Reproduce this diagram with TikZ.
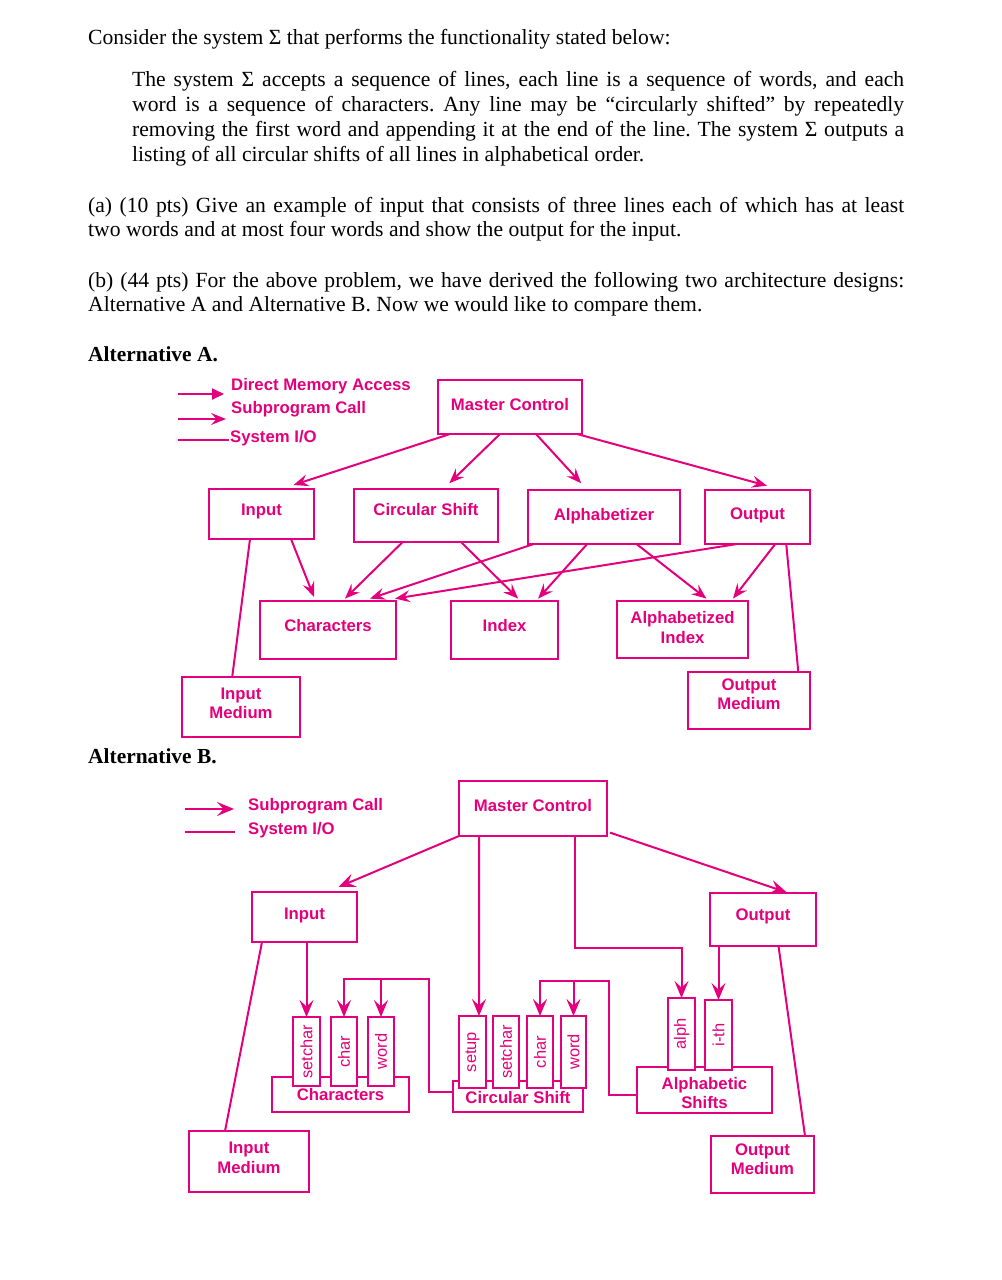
\documentclass[tikz,border=0pt]{standalone}
\usepackage{fontspec}
\setmainfont{Liberation Serif}
\newfontfamily\diagfont{Liberation Sans}
\usetikzlibrary{arrows.meta,calc}
\definecolor{mag}{RGB}{228,0,124}
\newcommand\vlabfont{\diagfont\fontsize{16.5}{18}\selectfont}
\newcommand\lift[2]{\raisebox{#1pt}[\height][\depth]{\begin{tabular}{@{}c@{}}#2\end{tabular}}}
\newcommand\dbox[7][]{\node[box,minimum width=#5bp-#3bp,minimum height=#6bp-#4bp,#1] (#2) at ({(#3+#5)/2},{(#4+#6)/2}) {#7};}
\frenchspacing
\begin{document}
\begin{tikzpicture}[x=1bp,y=-1bp,
  txt/.style={anchor=base west,inner sep=0pt,font=\fontsize{21.7}{25}\selectfont},
  htxt/.style={txt,font=\bfseries\fontsize{21.5}{25}\selectfont},
  box/.style={draw=mag,line width=2bp,inner sep=0pt,outer sep=0pt,text=mag,
    font=\diagfont\bfseries\fontsize{16.8}{19.5}\selectfont,align=center},
  sub/.style={fill=white,font=\vlabfont},
  lgd/.style={anchor=west,inner sep=0pt,text=mag,font=\diagfont\bfseries\fontsize{16.8}{19.5}\selectfont},
  io/.style={draw=mag,line width=2bp},
  call/.style={io,-{Stealth[length=15pt,width=12pt,inset=5.5pt]}},
  callB/.style={io,-{Stealth[length=17pt,width=14pt,inset=6.5pt]}},
  dma/.style={io,-{Triangle[length=12pt,width=11pt]}}
]
\fill[white] (0,0) rectangle (1002,1280);
\useasboundingbox (0,0) rectangle (1002,1280);

% ---------- text ----------
\node[txt] (t0) at (88,44) {Consider the system Σ that performs the functionality stated below:};
\node[txt] (t1) at (132,86) {\makebox[772bp][s]{The system Σ accepts a sequence of lines, each line is a sequence of words, and each}};
\node[txt] (t2) at (132,111) {\makebox[772bp][s]{word is a sequence of characters. Any line may be “circularly shifted” by repeatedly}};
\node[txt] (t3) at (132,136) {\makebox[772bp][s]{removing the first word and appending it at the end of the line. The system Σ outputs a}};
\node[txt] (t4) at (132,161) {listing of all circular shifts of all lines in alphabetical order.};
\node[txt] (t5) at (88,212) {\makebox[816bp][s]{(a) (10 pts) Give an example of input that consists of three lines each of which has at least}};
\node[txt] (t6) at (88,236) {two words and at most four words and show the output for the input.};
\node[txt] (t7) at (88,287) {\makebox[816bp][s]{(b) (44 pts) For the above problem, we have derived the following two architecture designs:}};
\node[txt] (t8) at (88,311) {Alternative A and Alternative B. Now we would like to compare them.};
\node[htxt] (hA) at (88,361) {Alternative A.};
\node[htxt] (hB) at (88,763) {Alternative B.};

% ---------- Alternative A legend ----------
\coordinate (la1s) at (178,394); \coordinate (la1e) at (224,394);
\coordinate (la2s) at (178,419); \coordinate (la2e) at (226,419);
\coordinate (la3s) at (178,440); \coordinate (la3e) at (229,440);
\draw[dma] (la1s) -- (la1e);
\draw[call] (la2s) -- (la2e);
\draw[io] (la3s) -- (la3e);
\node[lgd] (la1) at (231,386) {Direct Memory Access};
\node[lgd] (la2) at (231,409) {Subprogram Call};
\node[lgd] (la3) at (230,438) {System I/O};

% ---------- Alternative A boxes ----------
\dbox{mcA}{438}{380}{582}{434}{\lift{0}{Master Control}}
\dbox{inA}{209}{489}{314}{539}{\lift{2.6}{Input}}
\dbox{csA}{354}{489}{498}{542}{\lift{3.9}{Circular Shift}}
\dbox{alA}{528}{490}{680}{544}{\lift{0.6}{Alphabetizer}}
\dbox{ouA}{705}{490}{810}{544}{\lift{1.6}{Output}}
\dbox{chA}{260}{601}{396}{659}{\lift{2.2}{Characters}}
\dbox{ixA}{451}{601}{558}{659}{\lift{2.2}{Index}}
\dbox{aiA}{617}{601}{748}{658}{\lift{0}{Alphabetized\\Index}}
\dbox{imA}{182}{677}{300}{737}{\lift{1.9}{Input\\Medium}}
\dbox{omA}{688}{672}{810}{729}{\lift{4.5}{Output\\Medium}}

% ---------- Alternative A connectors ----------
\draw[call] ($(mcA.south west)+(12,0)$) -- ($(inA.north)+(32,-4)$);
\draw[call] ($(mcA.south)+(-10,0)$) -- ($(csA.north)+(23.3,-5.8)$);
\draw[call] ($(mcA.south)+(26,0)$) -- ($(alA.north)+(-22.8,-6.7)$);
\draw[call] ($(mcA.south east)+(-5,0)$) -- ($(ouA.north)+(9.5,-4.3)$);
\draw[call] ($(inA.south east)+(-23,0)$) -- ($(chA.north west)+(54,-4)$);
\draw[io] ($(inA.south west)+(41,0)$) -- ($(imA.north)+(-8.8,0)$);
\draw[call] ($(csA.south)+(-23.3,0)$) -- ($(chA.north)+(17,-2.4)$);
\draw[call] ($(csA.south)+(35,0)$) -- ($(ixA.north)+(13.65,-2.4)$);
\draw[call] ($(alA.south west)+(5.8,0)$) -- ($(chA.north)+(42,-2.4)$);
\draw[call] ($(ouA.south west)+(32,0)$) -- ($(chA.north east)+(-1,-2.4)$);
\draw[call] ($(alA.south)+(-16.8,0)$) -- ($(ixA.north)+(33.65,-2.4)$);
\draw[call] ($(alA.south)+(32.5,0)$) -- ($(aiA.north)+(23.9,-2.4)$);
\draw[call] ($(ouA.south)+(17.75,0)$) -- ($(aiA.north)+(50.5,-2.4)$);
\draw[io] ($(ouA.south)+(28.75,0)$) -- ($(omA.north east)+(-11.7,0)$);

% ---------- Alternative B legend ----------
\coordinate (lb1s) at (185,809); \coordinate (lb1e) at (234,809);
\coordinate (lb2s) at (185,832); \coordinate (lb2e) at (235,832);
\draw[callB] (lb1s) -- (lb1e);
\draw[io] (lb2s) -- (lb2e);
\node[lgd] (lb1) at (248,806) {Subprogram Call};
\node[lgd] (lb2) at (248,830) {System I/O};

% ---------- Alternative B boxes ----------
\dbox{mcB}{459}{781}{607}{836}{\lift{0.4}{Master Control}}
\dbox{inB}{252}{892}{357}{942}{\lift{1.3}{Input}}
\dbox{ouB}{710}{893}{816}{946}{\lift{2.6}{Output}}
\dbox{imB}{189}{1131}{309}{1192}{\lift{1.9}{Input\\Medium}}
\dbox{omB}{711}{1136}{814}{1193}{\lift{3.4}{Output\\Medium}}
\dbox{chB}{272}{1077}{409}{1112}{\lift{-2.6}{Characters}}
\dbox{csB}{453}{1081}{583}{1112}{\lift{-3.6}{Circular Shift}}
\dbox{asB}{637}{1067}{772}{1113}{\lift{-5}{Alphabetic\\Shifts}}
\dbox[sub]{ch1}{293}{1017}{320}{1086}{\rotatebox{90}{setchar}}
\dbox[sub]{ch2}{331}{1017}{357}{1086}{\rotatebox{90}{char}}
\dbox[sub]{ch3}{368}{1017}{394}{1086}{\rotatebox{90}{word}}
\dbox[sub]{cs1}{459}{1016}{486}{1088}{\rotatebox{90}{setup}}
\dbox[sub]{cs2}{493}{1016}{519}{1088}{\rotatebox{90}{setchar}}
\dbox[sub]{cs3}{527}{1016}{553}{1088}{\rotatebox{90}{char}}
\dbox[sub]{cs4}{561}{1016}{586}{1088}{\rotatebox{90}{word}}
\dbox[sub]{as1}{668}{998}{695}{1070}{\rotatebox{90}{alph}}
\dbox[sub]{as2}{705}{1000}{732}{1070}{\rotatebox{90}{i-th}}

% ---------- Alternative B connectors ----------
\draw[callB] (mcB.south west) -- ($(inB.north)+(34,-5)$);
\draw[callB] ($(mcB.south east)+(3,-3.4)$) -- ($(ouB.north)+(23.8,-0.6)$);
\draw[callB] ($(mcB.south west)+(20,0)$) -- ($(cs1.north)+(6.5,0)$);
\draw[callB] ($(mcB.south west)+(116,0)$) |- ($(as1.north)+(0,-50)$) -- (as1.north);
\draw[callB] (as2.north |- ouB.south) -- (as2.north);
\draw[io] ($(ouB.south)+(15.5,0)$) -- ($(omB.north east)+(-9,0)$);
\draw[io] ($(inB.south west)+(10,0)$) -- ($(imB.north)+(-24,0)$);
\draw[callB] (ch1.north |- inB.south) -- (ch1.north);
\draw[callB] ($(csB.north west)+(0,11)$) -| ($(ch3.north)+(48,-38)$) -| (ch2.north);
\draw[callB] ($(ch3.north)+(0,-38)$) -- (ch3.north);
\draw[callB] ($(asB.north west)+(0,28)$) -| ($(cs4.north)+(35.5,-35)$) -| (cs3.north);
\draw[callB] ($(cs4.north)+(0,-35)$) -- (cs4.north);
\end{tikzpicture}
\end{document}
